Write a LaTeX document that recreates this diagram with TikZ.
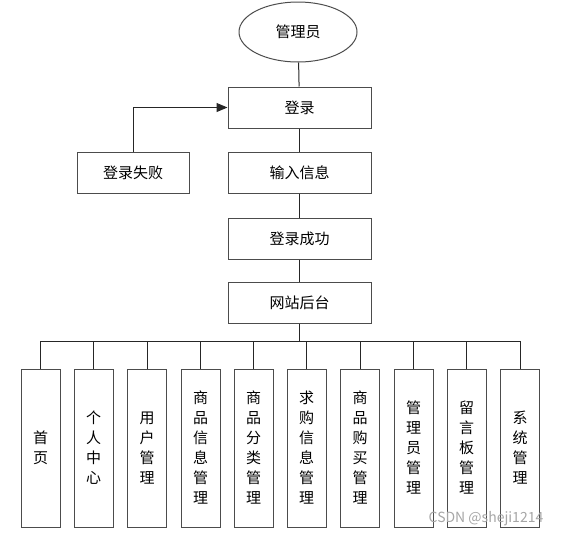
\documentclass[tikz,border=0pt]{standalone}
\usepackage{fontspec}
\setmainfont{Noto Sans CJK SC}
\usetikzlibrary{arrows.meta,shapes.geometric}

\begin{document}
\begin{tikzpicture}[x=1pt, y=1pt, font=\fontsize{15}{20}\selectfont,
	box/.style={draw=black!70, line width=1pt, minimum width=143pt, minimum height=41pt, inner sep=0pt},
	sub/.style={draw=black!70, line width=1pt, minimum width=39pt, minimum height=158pt, align=center, inner sep=0pt},
	link/.style={line width=1pt, black!85}]
\useasboundingbox (0,0) rectangle (562,-536);
\node[ellipse, draw=black!70, line width=1pt, minimum width=118pt, minimum height=60pt] (admin) at (298,-32) {管理员};
\node[box] (login) at (299.5,-107.5) {登录};
\node[box, minimum width=112pt] (fail) at (133,-172.5) {登录失败};
\node[box] (input) at (299.5,-172.5) {输入信息};
\node[box] (ok) at (299.5,-238.5) {登录成功};
\node[box] (site) at (299.5,-303) {网站后台};
\coordinate (bus) at (299.5,-341);
\foreach \x/\t [count=\i] in {40.5/首\\页, 93.5/个\\人\\中\\心, 147/用\\户\\管\\理,
	200.5/商\\品\\信\\息\\管\\理, 253.5/商\\品\\分\\类\\管\\理, 306.5/求\\购\\信\\息\\管\\理,
	360/商\\品\\购\\买\\管\\理, 413.5/管\\理\\员\\管\\理, 466.5/留\\言\\板\\管\\理, 520/系\\统\\管\\理}
{
	\node[sub] (m-\i) at (\x,-448) {\t};
	\draw[link] (site.south) -- (bus) -| (m-\i.north);
}
\path[link]
(admin) edge (login)
(login) edge (input)
(input) edge (ok)
(ok) edge (site)
;
\draw[link, -{Triangle[length=11pt, width=9pt]}] (fail.north) |- (login.west);
\node[text=black!35, font=\fontsize{14}{16}\selectfont] (mark) at (486,-519) {CSDN @sheji1214};
\end{tikzpicture}
\end{document}
